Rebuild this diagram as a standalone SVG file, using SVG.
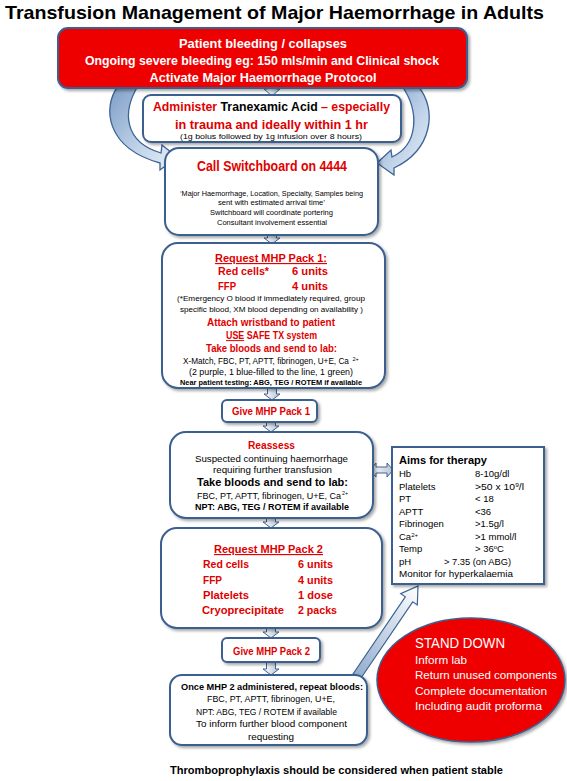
<svg xmlns="http://www.w3.org/2000/svg" width="567" height="781" viewBox="0 0 567 781">
<defs>
<style>
text{font-family:"Liberation Sans",Arial,sans-serif;}
.box{fill:#fff;stroke:#3a5f8f;stroke-width:2;filter:url(#sh);}
.red{fill:#ee0000;stroke:#3a5f8f;stroke-width:2;filter:url(#sh);}
.barrow{fill:url(#gArrow);stroke:#3e6494;stroke-width:1;}
.arc{fill:url(#gArc);stroke:#3e6494;stroke-width:1.3;}
.r{fill:#e00000;font-weight:bold;}
.k{fill:#000;}
.b{font-weight:bold;}
.w{fill:#fff;}
.m{text-anchor:middle;}
</style>
<filter id="sh" x="-10%" y="-10%" width="125%" height="130%">
<feDropShadow dx="2" dy="2" stdDeviation="1.5" flood-color="#000" flood-opacity="0.35"/>
</filter>
<linearGradient id="gArrow" x1="0" y1="0" x2="1" y2="0">
<stop offset="0" stop-color="#ffffff"/><stop offset="1" stop-color="#b9c3d2"/>
</linearGradient>
<linearGradient id="gArc" x1="0" y1="0" x2="1" y2="1">
<stop offset="0" stop-color="#7d9dc6"/><stop offset="0.6" stop-color="#c3d5ea"/><stop offset="1" stop-color="#e8f0f8"/>
</linearGradient>
<linearGradient id="gDiag" x1="0" y1="1" x2="1" y2="0">
<stop offset="0" stop-color="#8ea9cc"/><stop offset="1" stop-color="#ffffff"/>
</linearGradient>
</defs>
<rect width="567" height="781" fill="#fff"/>

<text id="title" x="274.5" y="18.5" class="m b" font-size="18.5" textLength="539" lengthAdjust="spacingAndGlyphs">Transfusion Management of Major Haemorrhage in Adults</text>

<g id="connectors">
<path class="arc" d="M 118 86 C 102 108, 106 148, 160 163 L 160 170 L 177 157 L 162 145 L 161 153 C 124 142, 122 112, 138 86 Z"/>
<path class="arc" d="M 418 86 C 438 110, 432 150, 394 168 L 394 175 L 377 163 L 391 150 L 392 157 C 418 145, 420 112, 402 86 Z"/>
<path class="barrow" d="M 267.5 87 H 276.5 V 89 H 280 L 272 96 L 264 89 H 267.5 Z"/>
<path class="barrow" d="M 267.5 235 H 276.5 V 238 H 280 L 272 244 L 264 238 H 267.5 Z"/>
<path class="barrow" d="M 267.5 388 H 276.5 V 394 H 280 L 272 400 L 264 394 H 267.5 Z"/>
<path class="barrow" d="M 266.5 422 H 275.5 V 426 H 279 L 271 432 L 263 426 H 266.5 Z"/>
<path class="barrow" d="M 266.5 518 H 275.5 V 522 H 279 L 271 528 L 263 522 H 266.5 Z"/>
<path class="barrow" d="M 266.5 628 H 275.5 V 632 H 279 L 271 638 L 263 632 H 266.5 Z"/>
<path class="barrow" d="M 266.5 662 H 275.5 V 669 H 279 L 271 675 L 263 669 H 266.5 Z"/>
<path class="barrow" d="M 370 470 L 376 463 V 467 H 387 V 463 L 393 470 L 387 477 V 473 H 376 V 477 Z"/>
<path fill="url(#gDiag)" stroke="#3e6494" stroke-width="1.2" d="M 353.3 673.5 L 405.3 596.8 L 400.7 593.7 L 418 586 L 417.3 604.9 L 412.7 601.8 L 360.7 678.5 Z"/>
</g>

<g id="n-start">
<rect class="red" x="58" y="28" width="409" height="60" rx="10"/>
<text class="m b w" font-size="13" x="263" y="48" textLength="168" lengthAdjust="spacingAndGlyphs">Patient  bleeding / collapses</text>
<text class="m b w" font-size="13" x="262" y="65" textLength="354" lengthAdjust="spacingAndGlyphs">Ongoing severe bleeding eg: 150 mls/min and Clinical shock</text>
<text class="m b w" font-size="13" x="263" y="82" textLength="227" lengthAdjust="spacingAndGlyphs">Activate Major Haemorrhage Protocol</text>
</g>

<g id="n-tranexamic">
<rect class="box" x="143" y="95" width="258" height="47" rx="8"/>
<text class="m b" font-size="13" x="271.5" y="111" textLength="237" lengthAdjust="spacingAndGlyphs"><tspan fill="#e00000">Administer</tspan> <tspan fill="#000">Tranexamic Acid</tspan> <tspan fill="#e00000">– especially</tspan></text>
<text class="m r" font-size="13" x="271.5" y="129" textLength="193" lengthAdjust="spacingAndGlyphs">in trauma and ideally within 1 hr</text>
<text class="m k" font-size="7.5" x="271" y="139" textLength="182" lengthAdjust="spacingAndGlyphs">(1g bolus followed by 1g infusion over 8 hours)</text>
</g>

<g id="n-switchboard">
<rect class="box" x="165" y="148" width="213" height="87" rx="14"/>
<text class="m r" font-size="14" x="272" y="171" textLength="150" lengthAdjust="spacingAndGlyphs">Call Switchboard on 4444</text>
<text class="m k" font-size="7" x="271.5" y="196" textLength="183" lengthAdjust="spacingAndGlyphs"><tspan fill="#1f2a6b">‘</tspan>Major Haemorrhage, Location, Specialty, Samples being</text>
<text class="m k" font-size="7" x="271.5" y="205" textLength="107" lengthAdjust="spacingAndGlyphs">sent with estimated  arrival time’</text>
<text class="m k" font-size="7" x="271.5" y="215" textLength="123" lengthAdjust="spacingAndGlyphs">Switchboard will coordinate portering</text>
<text class="m k" font-size="7" x="272" y="225" textLength="110" lengthAdjust="spacingAndGlyphs">Consultant involvement essential</text>
</g>

<g id="n-pack1">
<rect class="box" x="162" y="243" width="223" height="145" rx="16"/>
<text class="m r" font-size="11.5" x="271" y="262" textLength="112" lengthAdjust="spacingAndGlyphs" text-decoration="underline">Request MHP Pack 1:</text>
<text class="r" font-size="11.5" x="218" y="275" textLength="51" lengthAdjust="spacingAndGlyphs">Red cells*</text>
<text class="r" font-size="11.5" x="292" y="275" textLength="36" lengthAdjust="spacingAndGlyphs">6 units</text>
<text class="r" font-size="11.5" x="218" y="290" textLength="18" lengthAdjust="spacingAndGlyphs">FFP</text>
<text class="r" font-size="11.5" x="292" y="290" textLength="36" lengthAdjust="spacingAndGlyphs">4 units</text>
<text class="m k" font-size="7.5" x="271" y="301" textLength="188" lengthAdjust="spacingAndGlyphs">(*Emergency O blood if immediately required, group</text>
<text class="m k" font-size="7.5" x="271.5" y="312" textLength="183" lengthAdjust="spacingAndGlyphs">specific blood, XM blood depending on availability )</text>
<text class="m r" font-size="11.5" x="271" y="326" textLength="128" lengthAdjust="spacingAndGlyphs">Attach wristband to patient</text>
<text class="r" font-size="11" x="226" y="339" textLength="91" lengthAdjust="spacingAndGlyphs">USE SAFE TX system</text>
<line x1="226" y1="340.6" x2="244.2" y2="340.6" stroke="#e00000" stroke-width="1"/>
<text class="m r" font-size="11" x="271.5" y="351.5" textLength="131" lengthAdjust="spacingAndGlyphs">Take bloods and send to lab:</text>
<text class="k" font-size="8.2" x="183" y="364">X-Match, FBC, PT, APTT, fibrinogen, U+E, Ca</text>
<text class="k" font-size="5.5" x="352.5" y="360.5">2+</text>
<text class="m k" font-size="8.4" x="271" y="374.5" textLength="164" lengthAdjust="spacingAndGlyphs">(2 purple, 1 blue-filled to the line, 1 green)</text>
<text class="m k b" font-size="8" x="271" y="384.5" textLength="182" lengthAdjust="spacingAndGlyphs">Near patient testing: ABG, TEG / ROTEM  if available</text>
</g>

<g id="n-give1">
<rect class="box" x="222" y="400" width="95" height="22" rx="5"/>
<text class="m r" font-size="11" x="271" y="415" textLength="78" lengthAdjust="spacingAndGlyphs">Give MHP Pack 1</text>
</g>

<g id="n-reassess">
<rect class="box" x="170" y="432" width="203" height="86" rx="16"/>
<text class="m r" font-size="11.6" x="271.5" y="449" textLength="47" lengthAdjust="spacingAndGlyphs">Reassess</text>
<text class="m k" font-size="9.3" x="271.5" y="462" textLength="153" lengthAdjust="spacingAndGlyphs">Suspected  continuing haemorrhage</text>
<text class="m k" font-size="9.3" x="272.5" y="473" textLength="119" lengthAdjust="spacingAndGlyphs">requiring further transfusion</text>
<text class="m k b" font-size="11" x="272.5" y="486" textLength="151" lengthAdjust="spacingAndGlyphs">Take bloods and send to lab:</text>
<text class="k" font-size="8.8" x="197" y="498.5" textLength="144" lengthAdjust="spacingAndGlyphs">FBC, PT, APTT, fibrinogen, U+E, Ca</text>
<text class="k" font-size="5.5" x="342" y="495" textLength="6" lengthAdjust="spacingAndGlyphs">2+</text>
<text class="m k b" font-size="9.2" x="272" y="510" textLength="154" lengthAdjust="spacingAndGlyphs">NPT: ABG, TEG / ROTEM  if available</text>
</g>

<g id="n-aims">
<rect class="box" x="392" y="447" width="152" height="137" rx="0"/>
<text class="k b" font-size="11.6" x="399" y="464" textLength="88" lengthAdjust="spacingAndGlyphs">Aims for therapy</text>
<g class="k" font-size="9.5">
<text x="399" y="477">Hb</text><text x="475" y="477">8-10g/dl</text>
<text x="399" y="489.5">Platelets</text><text x="475" y="489.5" textLength="49" lengthAdjust="spacingAndGlyphs">&gt;50 x 10<tspan font-size="6" baseline-shift="super">9</tspan>/l</text>
<text x="399" y="502">PT</text><text x="475" y="502">&lt; 18</text>
<text x="399" y="514.5">APTT</text><text x="475" y="514.5">&lt;36</text>
<text x="399" y="527">Fibrinogen</text><text x="475" y="527">&gt;1.5g/l</text>
<text x="399" y="539.5">Ca<tspan font-size="6" baseline-shift="super">2+</tspan></text><text x="475" y="539.5">&gt;1 mmol/l</text>
<text x="399" y="552">Temp</text><text x="475" y="552">&gt; 36<tspan font-size="6" baseline-shift="super">o</tspan>C</text>
<text x="399" y="564.5">pH</text><text x="444" y="564.5" textLength="67" lengthAdjust="spacingAndGlyphs">&gt; 7.35 (on ABG)</text>
<text x="399" y="577" textLength="114" lengthAdjust="spacingAndGlyphs">Monitor for hyperkalaemia</text>
</g>
</g>

<g id="n-pack2">
<rect class="box" x="161" y="528" width="221" height="100" rx="16"/>
<text class="m r" font-size="11.5" x="268.5" y="553" textLength="109" lengthAdjust="spacingAndGlyphs" text-decoration="underline">Request MHP Pack 2</text>
<text class="r" font-size="11.5" x="203" y="568" textLength="46" lengthAdjust="spacingAndGlyphs">Red cells</text>
<text class="r" font-size="11.5" x="298" y="568" textLength="35" lengthAdjust="spacingAndGlyphs">6 units</text>
<text class="r" font-size="11.5" x="203" y="584" textLength="19" lengthAdjust="spacingAndGlyphs">FFP</text>
<text class="r" font-size="11.5" x="298" y="584" textLength="35" lengthAdjust="spacingAndGlyphs">4 units</text>
<text class="r" font-size="11.5" x="203" y="599" textLength="46" lengthAdjust="spacingAndGlyphs">Platelets</text>
<text class="r" font-size="11.5" x="298" y="599" textLength="35" lengthAdjust="spacingAndGlyphs">1 dose</text>
<text class="r" font-size="11.5" x="202" y="614" textLength="82" lengthAdjust="spacingAndGlyphs">Cryoprecipitate</text>
<text class="r" font-size="11.5" x="298" y="614" textLength="39" lengthAdjust="spacingAndGlyphs">2 packs</text>
</g>

<g id="n-give2">
<rect class="box" x="222" y="638" width="98" height="24" rx="5"/>
<text class="m r" font-size="11" x="271.5" y="654.5" textLength="77" lengthAdjust="spacingAndGlyphs">Give MHP Pack 2</text>
</g>

<g id="n-repeat">
<rect class="box" x="170" y="675" width="197" height="70" rx="12"/>
<text class="m k b" font-size="9.3" x="272" y="689.5" textLength="182" lengthAdjust="spacingAndGlyphs">Once MHP 2 administered, repeat bloods:</text>
<text class="m k" font-size="9" x="271" y="702" textLength="128" lengthAdjust="spacingAndGlyphs">FBC, PT, APTT, fibrinogen, U+E,</text>
<text class="m k" font-size="9" x="266.5" y="714.5" textLength="141" lengthAdjust="spacingAndGlyphs">NPT: ABG, TEG / ROTEM if available</text>
<text class="m k" font-size="9" x="271.5" y="727" textLength="151" lengthAdjust="spacingAndGlyphs">To inform further blood component</text>
<text class="m k" font-size="9" x="271" y="739.5" textLength="46" lengthAdjust="spacingAndGlyphs">requesting</text>
</g>

<g id="n-standdown">
<ellipse cx="471" cy="680" rx="94" ry="62" fill="#ee0000" stroke="#3a5f8f" stroke-width="1.5" filter="url(#sh)"/>
<text class="w" font-size="14" x="415" y="648" textLength="90" lengthAdjust="spacingAndGlyphs">STAND DOWN</text>
<text class="w" font-size="11" x="415" y="664" textLength="52" lengthAdjust="spacingAndGlyphs">Inform lab</text>
<text class="w" font-size="11" x="415" y="679" textLength="142" lengthAdjust="spacingAndGlyphs">Return unused components</text>
<text class="w" font-size="11" x="415" y="694.5" textLength="132" lengthAdjust="spacingAndGlyphs">Complete documentation</text>
<text class="w" font-size="11" x="415" y="710" textLength="127" lengthAdjust="spacingAndGlyphs">Including audit proforma</text>
</g>

<text id="footer" class="m k b" font-size="11.2" x="336.5" y="774" textLength="333" lengthAdjust="spacingAndGlyphs">Thromboprophylaxis should be considered when patient stable</text>
</svg>
